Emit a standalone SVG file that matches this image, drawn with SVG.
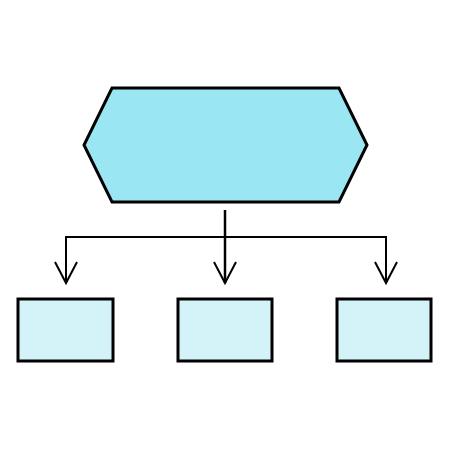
<svg xmlns="http://www.w3.org/2000/svg" width="450" height="450" viewBox="0 0 450 450">
<style>
.node{stroke:#000;stroke-width:3;stroke-linejoin:miter}
.hex{fill:#9ae6f2}
.box{fill:#d4f3f9}
.conn{fill:none;stroke:#000;stroke-width:2}
</style>
<rect width="450" height="450" fill="#fff"/>
<g id="root"><polygon class="node hex" points="112,88 339,88 367,145 339,202 112,202 84,145"/></g>
<g id="child1"><rect class="node box" x="18" y="299" width="95" height="62"/></g>
<g id="child2"><rect class="node box" x="178" y="299" width="94" height="62"/></g>
<g id="child3"><rect class="node box" x="337" y="299" width="94" height="62"/></g>
<g id="connectors" class="conn">
<path d="M225,210 V283" stroke-width="2.5"/>
<path d="M66,283 V237 H386 V283"/>
<path d="M55,262 L66,283 L77,262"/>
<path d="M214,262 L225,283 L236,262"/>
<path d="M375,262 L386,283 L397,262"/>
</g>
</svg>
